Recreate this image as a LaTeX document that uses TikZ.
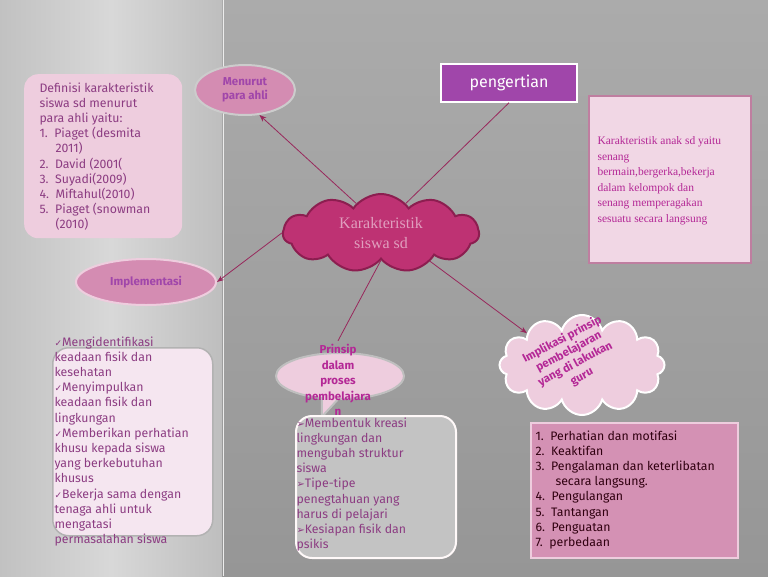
\documentclass[tikz,border=0pt]{standalone}
\usepackage{fontspec}
\setmainfont{Fira Sans}
\newfontfamily\serifb{Liberation Serif}
\newfontfamily\symf{DejaVu Sans}
\usetikzlibrary{shapes.symbols,shapes.geometric,shapes.callouts,arrows.meta}
\definecolor{bgL}{RGB}{190,190,190}
\definecolor{bgR}{RGB}{150,150,150}
\definecolor{pinkA}{RGB}{238,205,222}
\definecolor{pinkE}{RGB}{212,140,178}
\definecolor{purp}{RGB}{160,70,170}
\definecolor{mag}{RGB}{190,50,115}
\definecolor{magD}{RGB}{140,30,80}
\definecolor{txtP}{RGB}{140,60,130}
\definecolor{txtM}{RGB}{180,40,150}
\definecolor{lav}{RGB}{245,230,240}
\definecolor{listP}{RGB}{212,145,180}
\definecolor{boxG}{RGB}{195,195,195}
\tikzset{
 conn/.style={draw=mag!80!black,line width=0.8pt},
 arr/.style={conn,-{Stealth[length=7pt]}},
 txt/.style={font=\fontsize{12.3}{15.2}\selectfont,text=txtP,align=left},
}
\newcommand{\ck}{{\symf\fontsize{9}{10}\selectfont ✓}}
\newcommand{\ar}{{\symf\fontsize{10}{10}\selectfont ➢}}
\begin{document}
\begin{tikzpicture}[x=1pt,y=-1pt]
\useasboundingbox (0,0) rectangle (768,576);
\shade[left color=bgL!95!white,right color=bgL,middle color=bgL!60!white] (0,0) rectangle (222,576);
\shade[top color=bgR!80!white,bottom color=bgR] (222,0) rectangle (768,576);
\draw[white!85!gray,line width=1pt] (223,0)--(223,576);
% definisi box
\node[draw=none,fill=pinkA,rounded corners=14pt,minimum width=158pt,minimum height=164pt,anchor=north west] (def) at (24,74) {};
\node[txt,anchor=north west] (deft) at (36,79) {Definisi karakteristik\\siswa sd menurut\\para ahli yaitu:\\1.\ \ Piaget (desmita\\\hspace*{16pt}2011)\\2.\ \ David (2001(\\3.\ \ Suyadi(2009)\\4.\ \ Miftahul(2010)\\5.\ \ Piaget (snowman\\\hspace*{16pt}(2010)};
% menurut
\node[ellipse,fill=pinkE,draw=gray!40,line width=2pt,minimum width=100pt,minimum height=50pt,font=\bfseries\fontsize{11.5}{13.5}\selectfont,text=purp,align=center] (men) at (245,90) {Menurut\\para ahli};
% pengertian
\node[fill=purp,draw=white,line width=1.5pt,minimum width=136pt,minimum height=38pt,text=white,font=\fontsize{16}{18}\selectfont] (pen) at (509,83) {pengertian};
% right box
\node[fill=pinkA!80!white,draw=pinkE!90!black,line width=1.5pt,minimum width=162pt,minimum height=167pt,anchor=north west] (kar) at (588,95) {};
\node[anchor=north west,font=\serifb\fontsize{11.5}{15.5}\selectfont,text=txtM,align=left] (kart) at (594,133) {Karakteristik anak sd yaitu\\senang\\bermain,bergerka,bekerja\\dalam kelompok dan\\senang memperagakan\\sesuatu secara langsung};
% central cloud
\node[cloud,cloud puffs=11,cloud puff arc=110,aspect=2.6,fill=mag,draw=magD,line width=2pt,minimum width=196pt,minimum height=78pt,text=pinkA!70!mag,font=\serifb\fontsize{16}{20}\selectfont,align=center] (c) at (381,233) {Karakteristik\\siswa sd};
% implementasi
\node[ellipse,fill=pinkE,draw=pinkA,line width=2pt,minimum width=140pt,minimum height=46pt,font=\bfseries\fontsize{11.5}{13}\selectfont,text=purp] (imp) at (146,282) {Implementasi};
\node[fill=lav,draw=gray!60,line width=1.5pt,rounded corners=16pt,minimum width=160pt,minimum height=188pt,anchor=north west] (impb) at (52,347) {};
\node[txt,anchor=north west] (impt) at (51,333) {\ck Mengidentifikasi\\keadaan fisik dan\\kesehatan\\\ck Menyimpulkan\\keadaan fisik dan\\lingkungan\\\ck Memberikan perhatian\\khusu kepada siswa\\yang berkebutuhan\\khusus\\\ck Bekerja sama dengan\\tenaga ahli untuk\\mengatasi\\permasalahan siswa};
% prinsip
\node[ellipse callout,callout relative pointer={(-8pt,-18pt)},fill=pinkA,draw=gray!50,line width=2pt,minimum width=128pt,minimum height=46pt] (pr) at (340,376) {};
\node[font=\bfseries\fontsize{11.5}{15.5}\selectfont,text=txtM,align=center] (prt) at (338,380) {Prinsip\\dalam\\proses\\pembelajara\\n};
\node[fill=boxG,draw=white!90!pink,line width=2pt,rounded corners=16pt,minimum width=160pt,minimum height=142pt,anchor=north west] (prb) at (295,415) {};
\node[txt,anchor=north west] (prbt) at (293,414) {\ar Membentuk kreasi\\lingkungan dan\\mengubah struktur\\siswa\\\ar Tipe-tipe\\penegtahuan yang\\harus di pelajari\\\ar Kesiapan fisik dan\\psikis};
% implikasi cloud
\node[cloud,cloud puffs=12,aspect=1.6,fill=pinkA,draw=white,line width=2pt,minimum width=165pt,minimum height=100pt] (imk) at (582,365) {};
\node[rotate=28,font=\bfseries\fontsize{11.5}{14}\selectfont,text=txtM,align=center] (imkt) at (572,358) {Implikasi prinsip\\pembelajaran\\yang di lakukan\\guru};
% list box
\node[fill=listP,draw=pinkA,line width=2pt,minimum width=207pt,minimum height=135pt,anchor=north west] (lst) at (530,422) {};
\node[txt,anchor=north west,text=black!75!purple] (lstt) at (532,427) {1.\ \ Perhatian dan motifasi\\2.\ \ Keaktifan\\3.\ \ Pengalaman dan keterlibatan\\\hspace*{20pt}secara langsung.\\4.\ \ Pengulangan\\5.\ \ Tantangan\\6.\ \ Penguatan\\7.\ \ perbedaan};
% connectors
\draw[arr] (c.130) -- (men.300);
\draw[conn] (c.50) -- (pen.south);
\draw[arr] (c.west) -- (imp.east);
\draw[conn] (c.south) -- (prt.north);
\draw[arr] (c.330) -- (imk.150);
\end{tikzpicture}
\end{document}
